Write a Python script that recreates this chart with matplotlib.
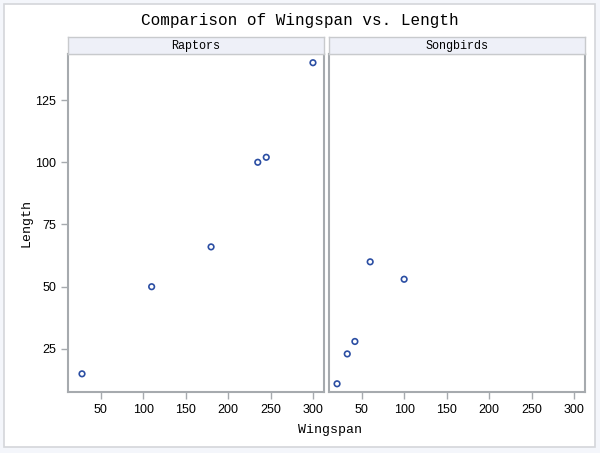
import matplotlib.pyplot as plt
from matplotlib.patches import Rectangle

# data
raptor_span = [28, 110, 180, 235, 245, 300]
raptor_len = [15, 50, 66, 100, 102, 140]
song_span = [21, 33, 42, 60, 100]
song_len = [11, 23, 28, 60, 53]
panels = ["Raptors", "Songbirds"]
xticks = [50, 100, 150, 200, 250, 300]
yticks = [25, 50, 75, 100, 125]

W, H = 600, 453
fig = plt.figure(figsize=(6, 4.53), dpi=100)
fig.patch.set_facecolor("#f4f6fb")

# white frame with light border
fig.patches.append(Rectangle((4 / W, 1 - 447 / H), 591 / W, 443 / H,
                             transform=fig.transFigure, facecolor="white",
                             edgecolor="#d4d6da", lw=1.2, zorder=-5))

mono = "Liberation Mono"
sans = "Liberation Sans"
frame = "#a6aaae"
mark = "#2b4ea3"

y0, y1 = 1 - 392 / H, 1 - 54 / H
hy1 = 1 - 37 / H
lefts = [68, 329]
pw = 256

data = [(raptor_span, raptor_len), (song_span, song_len)]
for i, (name, (xs, ys)) in enumerate(zip(panels, data)):
    x0 = lefts[i] / W
    ax = fig.add_axes((x0, y0, pw / W, y1 - y0))
    ax.scatter(xs, ys, s=16, facecolors="none", edgecolors=mark, linewidths=1.2)
    ax.set_xlim(11.5, 313)
    ax.set_ylim(7.7, 143.5)
    ax.set_xticks(xticks)
    ax.set_yticks(yticks)
    for s in ax.spines.values():
        s.set_color(frame)
        s.set_linewidth(1.5)
    ax.tick_params(colors=frame, labelcolor="black", length=5, width=1,
                   labelsize=9)
    for lab in ax.get_xticklabels() + ax.get_yticklabels():
        lab.set_family(sans)
    if i > 0:
        ax.tick_params(axis="y", left=False, labelleft=False)

    # header strip
    hx = fig.add_axes((x0, y1, pw / W, hy1 - y1))
    hx.set_facecolor("#eef0f8")
    hx.set_xticks([])
    hx.set_yticks([])
    for s in hx.spines.values():
        s.set_color("#c8cacd")
        s.set_linewidth(1)
    hx.text(0.5, 0.45, name, ha="center", va="center", fontsize=8.5,
            family=mono, transform=hx.transAxes)

fig.text(0.5, 1 - 21 / H, "Comparison of Wingspan vs. Length", ha="center",
         va="center", fontsize=11.5, family=mono)
fig.text(330 / W, 1 - 430 / H, "Wingspan", ha="center", va="center",
         fontsize=9.5, family=mono)
fig.text(27 / W, 1 - 223 / H, "Length", ha="center", va="center",
         fontsize=9.5, family=mono, rotation=90)

fig.savefig("out.png", dpi=100, facecolor=fig.get_facecolor())
